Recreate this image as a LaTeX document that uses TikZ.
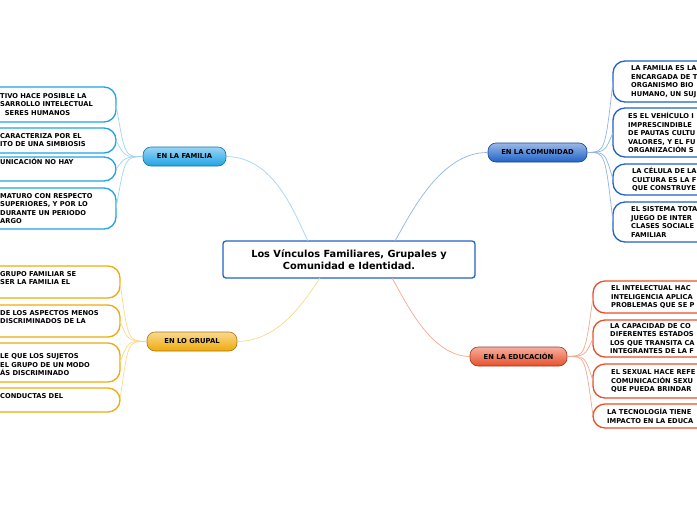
\documentclass[tikz,border=0pt]{standalone}
\usepackage{fontspec}
\setmainfont{DejaVu Sans}
\begin{document}
\begin{tikzpicture}[x=1pt,y=-1pt,
  txt/.style={font=\fontsize{6.7}{8.5}\selectfont\bfseries,align=left,anchor=west,inner sep=0pt},
  box/.style={draw=#1,line width=1.3pt,fill=white,rounded corners=12pt},
  pill/.style={draw=#1!70!black,line width=0.6pt,rounded corners=8pt,top color=#1!45!white,bottom color=#1,font=\fontsize{6.8}{8}\selectfont\bfseries,text=black},
  con/.style={draw=#1,line width=0.7pt}]
\useasboundingbox (0,0) rectangle (697,520);
\clip (0,0) rectangle (697,520);
\definecolor{cB}{HTML}{1FA3E6}
\definecolor{cO}{HTML}{F0AA0A}
\definecolor{cD}{HTML}{1F63C9}
\definecolor{cR}{HTML}{E8502A}
\definecolor{lB}{HTML}{9FD6F2}
\definecolor{lO}{HTML}{FAD98A}
\definecolor{lD}{HTML}{8FB3E8}
\definecolor{lR}{HTML}{F5A88E}
% center
\node[draw=cD,line width=1.3pt,rounded corners=3pt,fill=white,minimum width=252,minimum height=37,align=center,font=\fontsize{9.8}{12.5}\selectfont\bfseries] (c) at (349,259.5) {Los Vínculos Familiares, Grupales y\\Comunidad e Identidad.};
% pills
\node[pill=cB,minimum width=83,minimum height=19] (fam) at (184.5,156.5) {EN LA FAMILIA};
\node[pill=cO,minimum width=90,minimum height=19] (gru) at (192,341.5) {EN LO GRUPAL};
\node[pill=cD,minimum width=99,minimum height=19] (com) at (537.5,152.5) {EN LA COMUNIDAD};
\node[pill=cR,minimum width=97,minimum height=19] (edu) at (518.5,356.5) {EN LA EDUCACIÓN};
% main connectors
\draw[con=lB] (fam.east) .. controls (275,157) and (295,215) .. (308,241);
\draw[con=lO] (gru.east) .. controls (280,341) and (305,300) .. (320,278);
\draw[con=lD] (com.west) .. controls (440,152) and (410,215) .. (395,241);
\draw[con=lR] (edu.west) .. controls (430,356) and (405,300) .. (392,278);
% left familia boxes
\draw[box=cB] (-20,87) rectangle (116,122); \coordinate (f1) at (116,104.5);
\draw[box=cB] (-20,128) rectangle (116,153); \coordinate (f2) at (116,140.5);
\draw[box=cB] (-20,157) rectangle (116,181); \coordinate (f3) at (116,169);
\draw[box=cB] (-20,188) rectangle (116,229); \coordinate (f4) at (116,208.5);
\node[txt] (tf1) at (0,104.5) {TIVO HACE POSIBLE LA\\ SARROLLO INTELECTUAL\\ \ \ SERES HUMANOS};
\node[txt] (tf2) at (0,140) { CARACTERIZA POR EL\\ ITO DE UNA SIMBIOSIS};
\node[txt] (tf3) at (0,168) {UNICACIÓN NO HAY\\[4pt]};
\node[txt] (tf4) at (0,208.5) {MATURO CON RESPECTO\\ SUPERIORES, Y POR LO\\ DURANTE UN PERIODO\\ ARGO};
\foreach \p in {f1,f2,f3,f4}{\draw[con=lB] (fam.west) .. controls (125,157) and (125,157) .. (\p);}
% left grupal boxes
\draw[box=cO] (-20,266) rectangle (120,298); \coordinate (g1) at (120,282);
\draw[box=cO] (-20,305) rectangle (120,337); \coordinate (g2) at (120,321);
\draw[box=cO] (-20,343) rectangle (120,382); \coordinate (g3) at (120,362.5);
\draw[box=cO] (-20,388) rectangle (120,412); \coordinate (g4) at (120,400);
\node[txt] (tg1) at (0,278) { GRUPO FAMILIAR SE\\ SER LA FAMILIA EL};
\node[txt] (tg2) at (0,317) {DE LOS ASPECTOS MENOS\\ DISCRIMINADOS DE LA};
\node[txt] (tg3) at (0,365) {LE QUE LOS SUJETOS\\EL GRUPO DE UN MODO\\ÁS DISCRIMINADO};
\node[txt] (tg4) at (0,396) {CONDUCTAS DEL};
\foreach \p in {g1,g2,g3,g4}{\draw[con=lO] (gru.west) .. controls (128,341) and (128,341) .. (\p);}
% right comunidad boxes
\draw[box=cD] (613,61) rectangle (720,102); \coordinate (k1) at (613,81.5);
\draw[box=cD] (613,108) rectangle (720,157); \coordinate (k2) at (613,132.5);
\draw[box=cD] (613,164) rectangle (720,195); \coordinate (k3) at (613,179.5);
\draw[box=cD] (613,202) rectangle (720,242); \coordinate (k4) at (613,222);
\node[txt] (tk1) at (631,81.5) {LA FAMILIA ES LA\\ENCARGADA DE T\\ORGANISMO BIO\\HUMANO, UN SUJ};
\node[txt] (tk2) at (628,132.5) {ES EL VEHÍCULO I\\IMPRESCINDIBLE\\DE PAUTAS CULTU\\VALORES, Y EL FU\\ORGANIZACIÓN S};
\node[txt] (tk3) at (632,179.5) {LA CÉLULA DE LA\\CULTURA ES LA F\\QUE CONSTRUYE};
\node[txt] (tk4) at (631,222) {EL SISTEMA TOTA\\JUEGO DE INTER\\CLASES SOCIALE\\FAMILIAR};
\foreach \p in {k1,k2,k3,k4}{\draw[con=lD] (com.east) .. controls (605,152) and (605,152) .. (\p);}
% right educacion boxes
\draw[box=cR] (593,281) rectangle (720,313); \coordinate (e1) at (593,297);
\draw[box=cR] (593,320) rectangle (720,357); \coordinate (e2) at (593,338.5);
\draw[box=cR] (593,364) rectangle (720,398); \coordinate (e3) at (593,381);
\draw[box=cR] (593,404) rectangle (720,428); \coordinate (e4) at (593,416);
\node[txt] (te1) at (611,297) {EL INTELECTUAL HAC\\INTELIGENCIA APLICA\\PROBLEMAS QUE SE P};
\node[txt] (te2) at (610,338.5) {LA CAPACIDAD DE CO\\DIFERENTES ESTADOS\\LOS QUE TRANSITA CA\\INTEGRANTES DE LA F};
\node[txt] (te3) at (611,381) {EL SEXUAL HACE REFE\\COMUNICACIÓN SEXU\\QUE PUEDA BRINDAR};
\node[txt] (te4) at (607,416) {LA TECNOLOGÍA TIENE\\IMPACTO EN LA EDUCA};
\foreach \p in {e1,e2,e3,e4}{\draw[con=lR] (edu.east) .. controls (585,356) and (585,356) .. (\p);}
\end{tikzpicture}
\end{document}
